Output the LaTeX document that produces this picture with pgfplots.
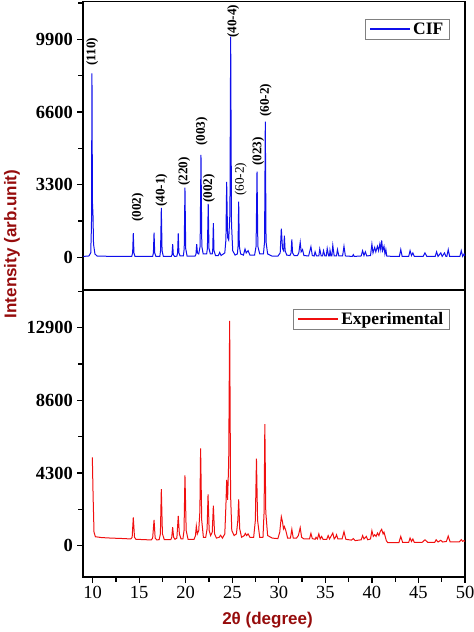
\documentclass[border=0pt]{standalone}
\usepackage{fontspec}
\setmainfont{Liberation Serif}
\newfontfamily\arialfont{Liberation Sans}
\usepackage{pgfplots}
\pgfplotsset{compat=1.18}
\definecolor{labred}{RGB}{150,12,12}
\definecolor{cifblue}{RGB}{15,15,235}
\definecolor{expred}{RGB}{240,15,15}
\tikzset{peak/.style={rotate=90, anchor=west, font=\fontsize{13.2}{14}\selectfont\bfseries, inner sep=1pt}}
\pgfplotsset{
 common/.style={
  scale only axis, width=381.7pt,
  xmin=9, xmax=50,
  axis line style={line width=1.6pt},
  tick align=outside,
  tick style={line width=1.3pt, black},
  major tick length=6pt, minor tick length=5pt,
  ytick pos=left, xtick pos=bottom,
  /pgf/number format/assume math mode=true,
  /pgf/number format/1000 sep={},
  scaled y ticks=false,
  yticklabel style={font=\fontsize{18.5}{20}\selectfont\bfseries, xshift=-1pt},
  xticklabel style={font=\fontsize{18.5}{20}\selectfont},
  legend cell align=left,
  legend style={draw=gray, line width=0.7pt, font=\fontsize{17.5}{18}\selectfont\bfseries, inner xsep=4pt, inner ysep=1.5pt, outer sep=0pt},
  legend image code/.code={\draw[#1, line width=2pt] (0pt,0pt) -- (40pt,0pt);},
 },
}
\begin{document}
\begin{tikzpicture}
\useasboundingbox (-83.3pt,-55.3pt) rectangle (390.7pt,576.7pt);
% bottom panel
\begin{axis}[common, at={(0pt,0pt)}, anchor=south west, height=286.7pt,
  ymin=-1834, ymax=15130,
  ytick={0,4300,8600,12900}, minor ytick={2150,6450,10750,15050},
  xtick={10,15,...,50}, minor xtick={12.5,17.5,...,47.5},
  legend style={at={(0.959,0.934)}, anchor=north east}]
\addplot[expred, line width=1pt] coordinates {
(9.97,5230)(10.05,3000)(10.15,800)(10.3,530)(11,480)(12,450)(13,430)(14.1,400)(14.25,500)(14.37,1680)(14.5,500)(14.65,380)
(16.3,340)(16.45,450)(16.6,1520)(16.72,450)(16.9,340)(17.15,360)(17.28,700)(17.38,3340)(17.5,700)(17.7,360)
(18.4,360)(18.5,500)(18.6,1090)(18.7,500)(18.85,380)(19.05,450)(19.2,1760)(19.32,700)(19.5,400)(19.7,400)(19.82,900)(19.92,4165)(20.05,900)(20.25,380)
(20.9,380)(21.05,600)(21.14,1165)(21.25,700)(21.4,900)(21.52,2000)(21.6,5760)(21.72,1500)(21.9,500)(22.15,500)(22.3,1000)(22.4,3040)(22.52,900)(22.68,600)(22.85,800)(22.97,2370)(23.1,700)(23.3,450)
(23.6,500)(23.75,620)(23.95,450)(24.2,700)(24.32,2400)(24.4,3890)(24.5,2720)(24.62,5000)(24.72,13310)(24.82,3000)(24.95,900)(25.2,600)(25.45,700)(25.6,1500)(25.69,2745)(25.8,1000)(26.0,500)
(26.3,600)(26.4,730)(26.55,600)(26.7,700)(26.9,500)(27.3,500)(27.48,1500)(27.6,5150)(27.72,1500)(27.95,500)(28.3,500)(28.42,2000)(28.5,7200)(28.6,2000)(28.8,600)(29.3,450)
(29.9,420)(30.1,800)(30.27,1720)(30.4,1400)(30.5,1000)(30.6,1130)(30.75,900)(30.95,450)(31.25,450)(31.4,970)(31.55,450)(31.9,450)(32.1,600)(32.3,1070)(32.45,500)(32.7,400)
(33.3,400)(33.45,730)(33.6,420)(33.9,380)(34.0,500)(34.15,400)(34.3,700)(34.45,400)(34.6,550)(34.75,380)(35.15,380)(35.3,600)(35.45,400)(35.8,750)(35.95,400)(36.1,500)(36.2,650)(36.35,400)
(36.8,400)(37.0,830)(37.2,380)(37.8,330)(38.0,420)(38.2,300)(38.85,350)(39.0,600)(39.15,400)(39.4,550)(39.55,350)
(39.85,400)(40.0,890)(40.15,550)(40.3,650)(40.45,550)(40.6,750)(40.75,600)(40.9,850)(41.05,970)(41.2,700)(41.3,800)(41.45,500)(41.55,300)(41.7,180)
(42.9,180)(43.1,550)(43.3,200)(43.95,200)(44.1,450)(44.25,250)(44.4,400)(44.55,200)(45.4,200)(45.7,350)(46.0,200)
(46.75,200)(46.9,350)(47.1,220)(47.4,320)(47.6,220)(48.0,250)(48.2,570)(48.4,230)(49.4,230)(49.6,360)(49.75,260)(49.9,300)(50,250)
};
\addlegendentry{Experimental}
\end{axis}
% top panel
\begin{axis}[common, at={(0pt,286.7pt)}, anchor=south west, height=288.5pt,
  ymin=-1485, ymax=11616,
  ytick={0,3300,6600,9900}, minor ytick={1650,4950,8250,11550},
  xtick=\empty,
  legend style={at={(0.959,0.938)}, anchor=north east}]
\addplot[cifblue, line width=1pt] coordinates {
(9.0,40)(9.6,60)(9.8,200)(9.88,1500)(9.93,8355)(9.98,2500)(10.04,1950)(10.1,600)(10.25,150)(10.5,50)
(14.2,40)(14.3,200)(14.37,1100)(14.44,200)(14.55,40)
(16.45,40)(16.53,200)(16.6,1120)(16.67,200)(16.8,40)
(17.22,40)(17.3,300)(17.38,2240)(17.46,300)(17.6,40)
(18.45,40)(18.53,120)(18.6,600)(18.67,120)(18.8,40)
(19.05,50)(19.13,200)(19.2,1090)(19.27,200)(19.4,60)
(19.75,60)(19.84,400)(19.92,3160)(20.0,400)(20.15,50)
(21.0,50)(21.1,130)(21.18,600)(21.26,200)(21.4,150)(21.55,500)(21.64,4645)(21.73,500)(21.88,150)
(22.25,150)(22.33,400)(22.42,2420)(22.5,400)(22.65,150)(22.85,150)(22.9,300)(22.97,1550)(23.04,300)(23.2,80)
(23.5,80)(23.65,220)(23.8,80)
(24.2,200)(24.32,800)(24.4,3430)(24.5,900)(24.62,780)(24.75,2000)(24.83,10020)(24.92,1500)(25.05,300)(25.3,100)
(25.55,150)(25.62,500)(25.69,2525)(25.76,500)(25.9,150)
(26.2,100)(26.37,375)(26.5,200)(26.7,300)(26.9,100)
(27.4,100)(27.56,500)(27.66,3890)(27.75,500)(27.95,150)
(28.35,150)(28.47,700)(28.55,6160)(28.63,700)(28.8,150)(29.3,50)
(29.9,50)(30.15,200)(30.27,1300)(30.4,400)(30.52,300)(30.6,980)(30.68,300)(30.85,100)
(31.2,80)(31.32,200)(31.4,815)(31.48,200)(31.65,80)
(32.0,80)(32.15,200)(32.3,680)(32.4,250)(32.55,350)(32.7,80)
(33.2,60)(33.45,480)(33.6,80)(33.8,60)(33.9,250)(34.05,60)(34.3,60)(34.4,380)(34.55,60)
(34.7,60)(34.8,300)(34.95,60)(35.1,60)(35.2,400)(35.35,60)(35.45,60)(35.5,320)(35.62,60)
(35.7,60)(35.8,540)(35.95,60)(36.2,60)(36.3,350)(36.45,60)(36.85,60)(37.0,500)(37.15,60)
(37.9,40)(38.0,120)(38.1,40)(38.85,60)(39.0,300)(39.15,80)(39.3,250)(39.45,60)
(39.85,80)(40.0,600)(40.12,200)(40.3,450)(40.42,250)(40.6,500)(40.72,300)(40.85,600)(40.95,350)(41.05,770)(41.15,300)(41.3,500)(41.4,150)(41.5,350)(41.6,50)
(42.95,40)(43.1,350)(43.25,40)(43.95,40)(44.1,300)(44.25,80)(44.4,200)(44.55,40)
(45.5,40)(45.7,200)(45.9,40)(46.8,40)(46.95,250)(47.1,40)(47.4,200)(47.55,40)(47.8,200)(47.95,40)
(48.05,40)(48.2,350)(48.35,40)(49.45,40)(49.6,300)(49.75,40)(49.9,150)(50,60)
};
\addlegendentry{CIF}
\node[peak] at (axis cs:9.95,8640) {(110)};
\node[peak] at (axis cs:14.84,1557) {(002)};
\node[peak] at (axis cs:17.4,2240) {(40-1)};
\node[peak] at (axis cs:19.85,3192) {(220)};
\node[peak] at (axis cs:21.72,5009) {(003)};
\node[peak] at (axis cs:22.5,2420) {(002)};
\node[peak] at (axis cs:25.11,9913) {(40-4)};
\node[peak, font=\fontsize{13.2}{14}\selectfont] at (axis cs:25.9,2738) {(60-2)};
\node[peak] at (axis cs:27.8,4100) {(023)};
\node[peak] at (axis cs:28.59,6325) {(60-2)};
\end{axis}
\node[rotate=90, font=\arialfont\fontsize{17}{18}\selectfont\bfseries, text=labred] at (-71.3pt,332.7pt) {Intensity (arb.unit)};
\node[font=\arialfont\fontsize{17}{18}\selectfont\bfseries, text=labred] at (184.2pt,-43.3pt) {2θ (degree)};
\end{tikzpicture}
\end{document}
